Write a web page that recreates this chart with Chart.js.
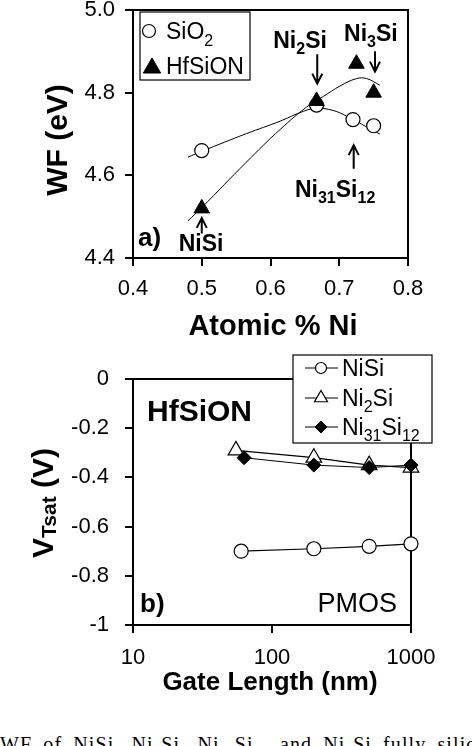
<!DOCTYPE html>
<html>
<head>
<meta charset="utf-8">
<script src="https://cdn.jsdelivr.net/npm/chart.js@4.4.1/dist/chart.umd.min.js"></script>
<style>
  html, body { margin: 0; padding: 0; background: #fff; width: 472px; height: 746px; overflow: hidden; }
  #wrap { position: relative; width: 472px; height: 746px; overflow: hidden; }
  canvas { position: absolute; left: 0; }
  #c1 { top: 0; }
  #c2 { top: 345px; }
  #caption { position: absolute; left: 0; top: 733px; font-family: "Liberation Serif", serif; font-size: 20px;
             letter-spacing: 1.1px; word-spacing: 5px; white-space: nowrap; color: #000; }
  #caption sub { font-size: 13px; }
</style>
</head>
<body>
<div id="wrap">
  <canvas id="c1" width="472" height="345"></canvas>
  <canvas id="c2" width="472" height="360"></canvas>
  <div id="caption">WF of NiSi, Ni<sub>2</sub>Si, Ni<sub>31</sub>Si<sub>12</sub> and Ni<sub>3</sub>Si fully silicided</div>
</div>
<script>
// --- a) work function vs atomic fraction of Ni ---
const niFracSiO2 = [0.5, 0.667, 0.72, 0.75];
const wfSiO2 = [4.66, 4.77, 4.735, 4.72];
const niFracHfSiON = [0.5, 0.667, 0.725, 0.75];
const wfHfSiON = [4.52, 4.78, 4.87, 4.80];

// hand-drawn trend curves
const fitXSiO2 = [0.48, 0.5, 0.565, 0.614, 0.648, 0.667, 0.691, 0.711, 0.74, 0.759];
const fitWfSiO2 = [4.644, 4.658, 4.701, 4.731, 4.755, 4.762, 4.757, 4.743, 4.717, 4.70];
const fitXHfSiON = [0.48, 0.5, 0.565, 0.614, 0.657, 0.677, 0.701, 0.725, 0.74, 0.759];
const fitWfHfSiON = [4.49, 4.522, 4.632, 4.711, 4.771, 4.791, 4.816, 4.834, 4.834, 4.818];

const niTicks = [0.4, 0.5, 0.6, 0.7, 0.8];
const wfTicks = [4.4, 4.6, 4.8, 5.0];

// --- b) VTsat vs gate length ---
const gateNiSi = [60, 200, 500, 1000];
const vtNiSi = [-0.70, -0.69, -0.68, -0.67];
const gateNi2Si = [55, 200, 500, 1000];
const vtNi2Si = [-0.29, -0.32, -0.35, -0.36];
const gateNi31Si12 = [63, 200, 500, 1000];
const vtNi31Si12 = [-0.32, -0.35, -0.36, -0.35];

const gateTicks = [10, 100, 1000];
const vtTicks = [0, -0.2, -0.4, -0.6, -0.8, -1];

const FONT = '"Liberation Sans", Arial, sans-serif';
Chart.defaults.font.family = FONT;
Chart.defaults.color = '#000';

const zip = (xs, ys) => xs.map((x, i) => ({ x: x, y: ys[i] }));

function zeroPad(s) {
  s.paddingLeft = 0; s.paddingRight = 0; s.paddingTop = 0; s.paddingBottom = 0;
}

// text with subscripts: 'Ni|31|Si|12' -> odd parts are subscripts
function rich(ctx, label, x, y, size, bold, align, subDrop) {
  const parts = label.split('|');
  const w = bold ? 'bold ' : '';
  const subSize = Math.round(size * 0.7);
  const drop = subDrop === undefined ? 0.28 : subDrop;
  let total = 0;
  parts.forEach((t, i) => {
    ctx.font = w + (i % 2 ? subSize : size) + 'px ' + FONT;
    total += ctx.measureText(t).width;
  });
  let cx = x;
  if (align === 'center') cx = x - total / 2;
  if (align === 'right') cx = x - total;
  ctx.textAlign = 'left';
  ctx.textBaseline = 'alphabetic';
  parts.forEach((t, i) => {
    ctx.font = w + (i % 2 ? subSize : size) + 'px ' + FONT;
    ctx.fillText(t, cx, i % 2 ? y + size * drop : y);
    cx += ctx.measureText(t).width;
  });
}

// cap-centre -> baseline
const base = (cy, size) => cy + size * 0.36;

function arrow(ctx, x, y0, y1) {
  const d = y1 > y0 ? -1 : 1;
  ctx.beginPath();
  ctx.moveTo(x, y0);
  ctx.lineTo(x, y1);
  ctx.moveTo(x - 5, y1 + d * 10);
  ctx.lineTo(x, y1);
  ctx.lineTo(x + 5, y1 + d * 10);
  ctx.stroke();
}

function marker(ctx, ds, x, y, r) {
  ctx.fillStyle = ds.backgroundColor;
  ctx.strokeStyle = ds.borderColor;
  ctx.lineWidth = ds.borderWidth;
  Chart.helpers.drawPoint(ctx, { pointStyle: ds.pointStyle, rotation: 0, radius: r, borderWidth: ds.borderWidth }, x, y);
}

const frame = {
  id: 'frame',
  beforeDatasetsDraw(chart) {
    const { ctx, chartArea: a } = chart;
    ctx.save();
    ctx.strokeStyle = '#000';
    ctx.lineWidth = 2;
    ctx.strokeRect(a.left, a.top, a.right - a.left, a.bottom - a.top);
    ctx.restore();
  }
};

function axisOpts(extra) {
  return Object.assign({
    grid: { display: true, drawOnChartArea: false, drawTicks: true, tickLength: 8, color: '#000', lineWidth: 2 },
    border: { display: true, color: '#000', width: 2 }
  }, extra);
}

// ===== chart a) =====
const compounds = [
  { label: 'Ni|2|Si', lx: 0.643, ly: 4.929, ax: 0.668, from: 4.893, to: 4.822 },
  { label: 'Ni|3|Si', lx: 0.746, ly: 4.945, ax: 0.752, from: 4.900, to: 4.851 },
  { label: 'Ni|31|Si|12', lx: 0.694, ly: 4.568, ax: 0.721, from: 4.616, to: 4.673 },
  { label: 'NiSi', lx: 0.499, ly: 4.436, ax: 0.5, from: 4.459, to: 4.497 }
];

const decorA = {
  id: 'decorA',
  afterDraw(chart) {
    const { ctx, scales: { x, y } } = chart;
    const ds = chart.data.datasets;
    ctx.save();

    // compound labels + arrows
    compounds.forEach(c => {
      ctx.fillStyle = '#000';
      rich(ctx, c.label, x.getPixelForValue(c.lx), base(y.getPixelForValue(c.ly), 23), 23, true, 'center');
      ctx.strokeStyle = '#000';
      ctx.lineWidth = 2;
      arrow(ctx, x.getPixelForValue(c.ax), y.getPixelForValue(c.from), y.getPixelForValue(c.to));
    });

    // legend
    ctx.fillStyle = '#fff';
    ctx.fillRect(140, 12, 110, 68);
    ctx.strokeStyle = '#000';
    ctx.lineWidth = 1.2;
    ctx.strokeRect(140, 12, 110, 68);
    marker(ctx, ds[1], 149, 31, 6.5);
    marker(ctx, ds[0], 152, 68, 10);
    ctx.fillStyle = '#000';
    rich(ctx, 'SiO|2', 166, base(31, 23), 23, false, 'left');
    rich(ctx, 'HfSiON', 166, base(66, 23), 23, false, 'left');

    // panel label
    rich(ctx, 'a)', 138, base(237, 26), 26, true, 'left');

    // axis titles
    rich(ctx, 'Atomic % Ni', 273, base(325, 29), 29, true, 'center');
    ctx.translate(67, 140);
    ctx.rotate(-Math.PI / 2);
    rich(ctx, 'WF (eV)', 0, 0, 30, true, 'center');
    ctx.restore();
  }
};

new Chart(document.getElementById('c1'), {
  type: 'scatter',
  data: {
    datasets: [
      { label: 'HfSiON', data: zip(niFracHfSiON, wfHfSiON), pointStyle: 'triangle', pointRadius: 9,
        backgroundColor: '#000', borderColor: '#000', borderWidth: 1, order: 0, clip: false },
      { label: 'SiO2', data: zip(niFracSiO2, wfSiO2), pointStyle: 'circle', pointRadius: 7,
        backgroundColor: '#fff', borderColor: '#000', borderWidth: 1.2, order: 1, clip: false },
      { label: 'HfSiON trend', data: zip(fitXHfSiON, fitWfHfSiON), showLine: true, pointRadius: 0,
        borderColor: '#000', borderWidth: 1, tension: 0.4, order: 2 },
      { label: 'SiO2 trend', data: zip(fitXSiO2, fitWfSiO2), showLine: true, pointRadius: 0,
        borderColor: '#000', borderWidth: 1, tension: 0.4, order: 3 }
    ]
  },
  options: {
    responsive: false,
    animation: false,
    devicePixelRatio: 1,
    layout: { padding: { top: 5, left: 0, right: 64, bottom: 0 } },
    plugins: { legend: { display: false }, tooltip: { enabled: false } },
    scales: {
      x: axisOpts({
        type: 'linear', min: 0.4, max: 0.8,
        afterBuildTicks: s => { s.ticks = niTicks.map(v => ({ value: v })); },
        afterFit: s => { s.height = 87; zeroPad(s); },
        ticks: { callback: v => v.toFixed(1), font: { size: 22 }, color: '#000', padding: 10, maxRotation: 0, autoSkip: false }
      }),
      y: axisOpts({
        type: 'linear', min: 4.4, max: 5.0,
        afterBuildTicks: s => { s.ticks = wfTicks.map(v => ({ value: v })); },
        afterFit: s => { s.width = 133; zeroPad(s); },
        ticks: { callback: v => v.toFixed(1), font: { size: 22 }, color: '#000', padding: 10, autoSkip: false }
      })
    }
  },
  plugins: [frame, decorA]
});

// ===== chart b) =====
const decorB = {
  id: 'decorB',
  afterDraw(chart) {
    const { ctx } = chart;
    const ds = chart.data.datasets;
    ctx.save();

    // legend box
    ctx.fillStyle = '#fff';
    ctx.fillRect(293, 10, 139, 88);
    ctx.strokeStyle = '#000';
    ctx.lineWidth = 1.2;
    ctx.strokeRect(293, 10, 139, 88);
    const rows = [[ds[0], 23, 5.5, 'NiSi'], [ds[1], 53, 7.5, 'Ni|2|Si'], [ds[2], 82, 6, 'Ni|31|Si|12']];
    rows.forEach(([d, ry, r, name]) => {
      ctx.strokeStyle = '#000';
      ctx.lineWidth = 1;
      ctx.beginPath();
      ctx.moveTo(305, ry);
      ctx.lineTo(338, ry);
      ctx.stroke();
      marker(ctx, d, 321, ry, r);
      ctx.fillStyle = '#000';
      rich(ctx, name, 342, base(ry, 23), 23, false, 'left', 0.25);
    });

    ctx.fillStyle = '#000';
    rich(ctx, 'HfSiON', 147, base(65, 30), 30, true, 'left');
    rich(ctx, 'b)', 140, base(258, 26), 26, true, 'left');
    rich(ctx, 'PMOS', 397, base(257, 27), 27, false, 'right');
    rich(ctx, 'Gate Length (nm)', 270, base(336, 26), 26, true, 'center');

    ctx.translate(53, 158);
    ctx.rotate(-Math.PI / 2);
    rich(ctx, 'V|Tsat| (V)', 0, 0, 30, true, 'center', 0.1);
    ctx.restore();
  }
};

new Chart(document.getElementById('c2'), {
  type: 'scatter',
  data: {
    datasets: [
      { label: 'NiSi', data: zip(gateNiSi, vtNiSi), showLine: true, pointStyle: 'circle', pointRadius: 7,
        backgroundColor: '#fff', borderColor: '#000', borderWidth: 1.2, order: 2, clip: false },
      { label: 'Ni2Si', data: zip(gateNi2Si, vtNi2Si), showLine: true, pointStyle: 'triangle', pointRadius: 9,
        backgroundColor: '#fff', borderColor: '#000', borderWidth: 1.2, order: 1, clip: false },
      { label: 'Ni31Si12', data: zip(gateNi31Si12, vtNi31Si12), showLine: true, pointStyle: 'rectRot', pointRadius: 7,
        backgroundColor: '#000', borderColor: '#000', borderWidth: 1, order: 0, clip: false }
    ]
  },
  options: {
    responsive: false,
    animation: false,
    devicePixelRatio: 1,
    layout: { padding: { top: 34, left: 0, right: 61, bottom: 0 } },
    plugins: { legend: { display: false }, tooltip: { enabled: false } },
    scales: {
      x: axisOpts({
        type: 'logarithmic', min: 10, max: 1000,
        afterBuildTicks: s => { s.ticks = gateTicks.map(v => ({ value: v })); },
        afterFit: s => { s.height = 80; zeroPad(s); },
        ticks: { callback: v => String(v), font: { size: 22 }, color: '#000', padding: 12, maxRotation: 0, autoSkip: false }
      }),
      y: axisOpts({
        type: 'linear', min: -1, max: 0,
        afterBuildTicks: s => { s.ticks = vtTicks.map(v => ({ value: v })); },
        afterFit: s => { s.width = 133; zeroPad(s); },
        ticks: { callback: v => String(Math.round(v * 10) / 10), font: { size: 22 }, color: '#000', padding: 16, autoSkip: false }
      })
    }
  },
  plugins: [frame, decorB]
});
</script>
</body>
</html>
